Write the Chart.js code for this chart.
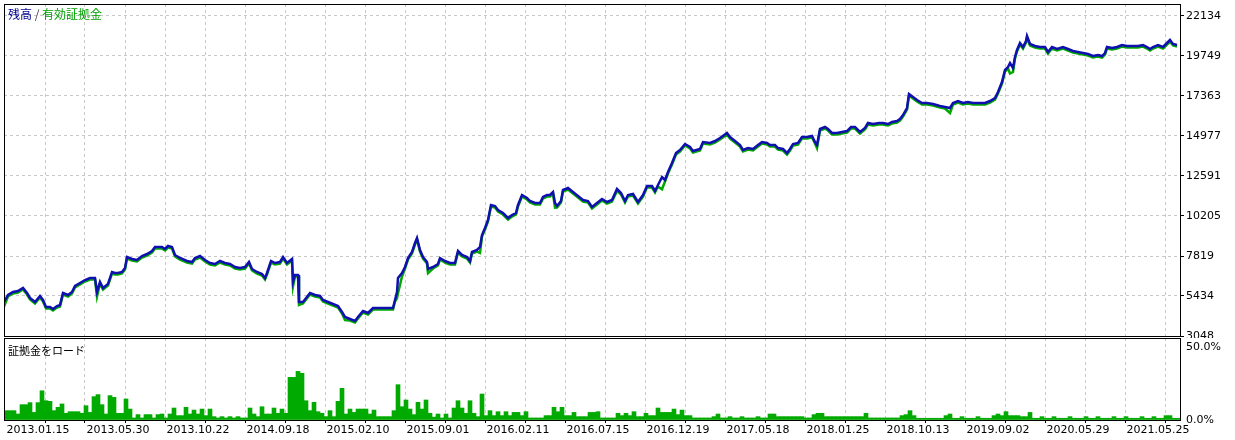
<!DOCTYPE html>
<html>
<head>
<meta charset="utf-8">
<script src="https://cdn.jsdelivr.net/npm/chart.js@4/dist/chart.umd.min.js"></script>
<style>
  body { margin: 0; background: #fff; width: 1235px; height: 440px; overflow: hidden; position: relative; }
  #main { position: absolute; left: 0; top: 0; }
  #load { position: absolute; left: 0; top: 338px; }
  .cap { position: absolute; font-family: "Noto Sans CJK JP"; line-height: 12px; white-space: nowrap; }
</style>
</head>
<body>
<canvas id="main" width="1235" height="338"></canvas>
<canvas id="load" width="1235" height="102"></canvas>
<div class="cap" style="left:8px;top:8px;font-size:12px"><span style="color:#000090">残高</span><span style="color:#444"> / </span><span style="color:#00a000">有効証拠金</span></div>
<div class="cap" style="left:8px;top:344px;font-size:11px;color:#000">証拠金をロード</div>
<script>
// trade number (x) and account values
let trades = [0,4,9,14,19,23,26,31,36,39, 42,46,49,53,56,59,64,68,71,76,
  81,86,91,93,96,99,104,108,111,114, 118,121,123,128,133,138,143,148,151,158,
  161,164,168,171,176,183,188,191,196,201, 206,211,216,221,226,231,236,241,245,248,
  253,258,261,263,267,271,276,279,283,288, 289,291,294,295,299,306,311,316,319,324,
  329,334,338,341,346,351,354,359,364,369, 374,379,386,389,391,393,394,398,401,404,
  408,411,413,416,419,423,424,429,434,436, 441,446,451,454,458,463,466,468,473,476,
  478,481,484,487,491,494,499,504,508,512, 514,518,523,526,531,536,539,543,546,549,
  551,553,557,559,564,569,574,579,584,588, 593,598,603,608,613,617,621,624,629,634,
  639,643,648,651,654,658,661,664,668,672, 676,681,686,689,696,699,706,711,716,723,
  726,731,736,739,744,749,754,758,763,766, 771,774,779,783,786,789,794,798,803,808,
  811,813,816,821,824,828,833,838,843,847, 851,856,861,864,869,875,879,884,888,893,
  896,899,903,905,909,913,918,923,929,936, 941,946,949,954,959,964,969,976,981,986,
  991,994,998,1001,1004,1006,1009,1011,1013,1016, 1019,1022,1023,1026,1031,1036,1041,1044,1048,1053,
  1059,1064,1069,1074,1079,1084,1089,1094,1098,1101, 1103,1108,1113,1118,1123,1129,1134,1139,1143,1146,
  1149,1154,1159,1163,1166,1169,1173]

let balance = [5076,5493,5672,5732,5911,5613,5314,5076,5434,5195, 4778,4778,4658,4837,4897,5613,5493,5672,6030,6209,
  6388,6507,6507,5672,6269,5911,6149,6865,6805,6805, 6865,7104,7760,7640,7581,7819,7938,8117,8356,8356,
  8237,8416,8356,7879,7700,7521,7461,7700,7819,7581, 7402,7342,7521,7402,7342,7163,7104,7163,7461,7044,
  6865,6746,6507,6805,7521,7402,7461,7760,7402,7640, 6269,6686,6686,5076,5076,5613,5493,5434,5195,5076,
  4956,4837,4479,4181,4062,3943,4181,4539,4420,4718, 4718,4718,4718,4718,5195,5672,6507,6805,7163,7700,
  8058,8595,8893,8177,7760,7461,7044,7163,7342,7700, 7521,7402,7402,8117,7879,7760,7521,8058,8177,8356,
  9072,9489,9966,10861,10801,10563,10384,10086,10264,10384, 10861,11457,11278,11099,10980,10980,11338,11457,11457,11636,
  10980,10801,11099,11755,11875,11636,11398,11159,11099,10742, 10980,11219,11040,11159,11815,11577,11099,11457,11517,11040,
  11457,11994,11994,11696,12054,12531,12352,12829,13366,13962, 14141,14499,14320,14081,14201,14618,14559,14678,14857,15155,
  14916,14678,14439,14141,14260,14201,14439,14618,14559,14439, 14439,14260,14201,13962,14201,14499,14559,14916,14916,14976,
  14618,14439,15393,15513,15393,15155,15155,15215,15274,15513, 15513,15215,15453,15751,15692,15751,15751,15692,15811,15871,
  15990,16228,16646,17481,17302,17123,16944,16944,16884,16765, 16706,16646,16944,17063,16944,17004,16944,16944,16944,17063,
  17242,17600,18197,18912,19091,19330,19032,19688,20105,20523, 20284,20642,20940,20463,20344,20284,20284,19986,20284,20165,
  20284,20165,20045,19986,19926,19866,19747,19807,19747,19926, 20284,20224,20284,20403,20344,20344,20344,20403,20284,20165,
  20284,20403,20284,20523,20701,20463,20403]

let equity = [4800,5403,5582,5642,5821,5523,5224,4986,5344,5105, 4688,4688,4568,4747,4807,5523,5403,5582,5940,6119,
  6298,6417,6417,5400,6179,5821,6059,6775,6715,6715, 6775,7014,7670,7550,7491,7729,7848,8027,8266,8266,
  8147,8326,8266,7789,7610,7431,7371,7610,7729,7491, 7312,7252,7431,7312,7252,7073,7014,7073,7371,6954,
  6775,6656,6417,6715,7431,7312,7371,7670,7312,7550, 6000,6596,6596,4900,4986,5523,5403,5344,5105,4986,
  4866,4747,4389,4000,3972,3853,4091,4449,4330,4628, 4628,4628,4628,4628,5105,5300,5600,6600,7073,7610,
  7968,8505,8803,8087,7670,7371,6800,7073,7252,7610, 7431,7312,7312,8027,7789,7670,7431,7968,8087,8000,
  8982,9399,9876,10771,10711,10473,10294,9996,10174,10294, 10771,11367,11188,11009,10890,10890,11248,11367,11367,11546,
  10700,10711,11009,11665,11785,11546,11308,11069,11009,10652, 10890,11129,10950,11069,11700,11487,11009,11367,11427,10950,
  11367,11904,11904,11606,11964,11800,12262,12739,13276,13872, 14051,14409,14230,13991,14111,14528,14469,14588,14767,15065,
  14826,14588,14349,14051,14170,14111,14349,14528,14469,14349, 14349,14170,14111,13872,14111,14409,14469,14826,14826,14886,
  14528,14250,15303,15423,15303,15065,15065,15125,15184,15423, 15423,15125,15363,15661,15602,15661,15661,15602,15721,15781,
  15900,16138,16556,17391,17212,17033,16854,16854,16794,16675, 16616,16350,16854,16973,16854,16914,16854,16854,16854,16973,
  17152,17510,18107,18822,19001,18700,18800,19598,20015,20433, 20194,20552,20850,20373,20254,20194,20194,19896,20194,20075,
  20194,20075,19955,19896,19836,19776,19657,19717,19657,19836, 20194,20134,20194,20313,20254,20254,20254,20313,20194,20075,
  20194,20313,20194,20433,20611,20373,20313]

// margin load in %, one bar per 4 trades
let loadPct = [6.4,6.4,6.4,4.1,10.5,10.5,11.9,5.2,11.9,20, 13.2,12.8,6.4,8.7,11,4.6,5.7,5.7,5.7,4.6,
  9.8,5.2,16,17.4,10.5,4.1,16.7,15.5,4.6,4.6, 14.4,7.5,1.4,3.7,1.4,3.7,3.7,1.4,3.7,4.1,
  1.4,4.1,8.2,3,3,8.7,4.1,6.8,4.1,7.5, 3,7.5,2.3,1.4,2.3,1.4,2.3,1.4,2.3,1.4,
  1.4,8.2,4.1,2.3,9.1,4.1,4.1,8.2,4.6,7.5, 4.6,29.2,29.2,33.3,32,13.2,6.4,12.1,5.7,4.6,
  2.3,6.4,2.3,12.8,21.7,4.1,7.5,5.2,7.5,7.5, 7.5,4.1,6.8,2.3,2.3,2.3,2.3,6.4,24.2,9.1,
  13.7,7.5,3.7,12.1,7.5,13.7,4.6,2,4.1,1.4, 4.1,1.4,8.2,13.2,8.2,4.6,13.2,4.6,2.3,17.8,
  3,6.4,3,5.7,3,5.7,3,5.2,5.2,3, 5.7,1.4,1.4,1.4,1.4,3,3,8.7,5.7,8.7,
  3,3,5.2,2.3,2.3,2.3,5.2,5.2,5.7,1.4, 1.4,1.4,1.4,4.6,3,4.6,3,5.7,2.3,2.3,
  4.6,3,3,8.2,5.2,5.2,5.2,7.5,3.7,6.8, 3,3,1.4,1.4,1.4,1.4,1.4,2.3,4.1,1.4,
  1.4,2.3,1.4,1.4,2.3,1.4,1.4,1.4,2.3,1.4, 1.4,4.1,4.1,2.3,2.3,2.3,2.3,2.3,2.3,2.3,
  1.4,1.4,3.7,4.6,4.6,2.3,2.3,2.3,2.3,2.3, 2.3,2.3,2.3,2.3,2.3,4.6,1.4,1.4,1.4,1.4,
  1.4,1.4,1.4,1.4,3,3.7,6.4,3,1.2,1.2, 1.2,1.2,1.2,1.2,1.2,3,4.1,1.2,1.2,2.3,
  1.2,1.2,1.2,2.3,1.2,1.2,1.2,3,4.1,3, 5.7,3,3,3,2.3,2.3,5.2,1.2,1.2,2.3,
  1.2,1.2,2.3,1.2,1.2,1.2,2.3,1.2,1.2,1.2, 2.3,1.2,1.2,2.3,1.2,1.2,1.2,2.3,1.2,1.2,
  2.3,1.2,1.2,1.2,2.3,1.2,1.2,2.3,1.2,1.2, 3,3,1.2,1.2]

let dateLabels = ["2013.01.15","2013.05.30","2013.10.22","2014.09.18","2015.02.10","2015.09.01",
  "2016.02.11","2016.07.15","2016.12.19","2017.05.18","2018.01.25","2018.10.13",
  "2019.09.02","2020.05.29","2021.05.25"]
let balanceTicks = [3048,5434,7819,10205,12591,14977,17363,19749,22134]
let loadTicks = [0, 50]

const lastTrade = 1176
// vertical grid every 40 trades, a date under every second one
let gridTrades = []
for (let t = 41; t < lastTrade; t += 40) gridTrades.push(t)
let loadTrades = loadPct.map((v, i) => 2 + i * 4)

Chart.defaults.font.family = "DejaVu Sans"
Chart.defaults.font.size = 11
Chart.defaults.color = "#000"

const frame = {
  id: "frame",
  afterDraw(chart) {
    let { ctx, chartArea: a } = chart
    ctx.save()
    ctx.strokeStyle = "#000"
    ctx.lineWidth = 1
    ctx.strokeRect(a.left + 0.5, a.top + 0.5, a.right - a.left, a.bottom - a.top)
    ctx.restore()
  }
}

function noPad(scale) {
  scale.paddingTop = 0; scale.paddingBottom = 0
  scale.paddingLeft = 0; scale.paddingRight = 0
}

let gridX = {
  type: "linear", min: 0, max: lastTrade, offset: false,
  afterBuildTicks: s => { s.ticks = gridTrades.map(v => ({ value: v })) },
  border: { display: false, dash: [3, 3] },
}

new Chart("main", {
  type: "line",
  data: {
    datasets: [
      { label: "残高", data: trades.map((t, i) => ({ x: t, y: balance[i] })),
        borderColor: "#1010b0", borderWidth: 2.5, pointRadius: 0, tension: 0 },
      { label: "有効証拠金", data: trades.map((t, i) => ({ x: t, y: equity[i] })),
        borderColor: "#00a800", borderWidth: 2.5, pointRadius: 0, tension: 0 }
    ]
  },
  options: {
    responsive: false, animation: false, events: [],
    layout: { padding: { left: 4, top: 4, right: 0, bottom: 0 } },
    plugins: { legend: { display: false }, tooltip: { enabled: false } },
    scales: {
      x: Object.assign({}, gridX, {
        ticks: { display: false },
        grid: { color: "#c8c8c8", drawTicks: false },
        afterFit: s => { noPad(s); s.height = 2 }
      }),
      y: {
        position: "right", min: 3048, max: 22849,
        afterBuildTicks: s => { s.ticks = balanceTicks.map(v => ({ value: v })) },
        ticks: { padding: 2, autoSkip: false, callback: v => String(v) },
        grid: { color: "#c8c8c8", tickColor: "#000", tickLength: 4 },
        border: { display: false, dash: [3, 3] },
        afterFit: s => { noPad(s); s.width = 55 }
      }
    }
  },
  plugins: [frame]
})

new Chart("load", {
  type: "bar",
  data: {
    datasets: [
      { label: "証拠金をロード", data: loadTrades.map((t, i) => ({ x: t, y: loadPct[i] })),
        backgroundColor: "#00aa00", barPercentage: 1, categoryPercentage: 1, borderWidth: 0 }
    ]
  },
  options: {
    responsive: false, animation: false, events: [],
    layout: { padding: { left: 4, top: 0, right: 0, bottom: 0 } },
    plugins: { legend: { display: false }, tooltip: { enabled: false } },
    scales: {
      x: Object.assign({}, gridX, {
        ticks: {
          autoSkip: false, maxRotation: 0, minRotation: 0, padding: 1, labelOffset: -7,
          callback: (v, i) => (i % 2 === 0 ? dateLabels[i / 2] : "")
        },
        grid: { color: "#c8c8c8", tickColor: "#000", tickLength: 3, offset: false },
        afterFit: s => { noPad(s); s.height = 20 }
      }),
      y: {
        position: "right", min: 0, max: 56.16,
        afterBuildTicks: s => { s.ticks = loadTicks.map(v => ({ value: v })) },
        ticks: { padding: 6, autoSkip: false, callback: v => v.toFixed(1) + "%" },
        grid: { drawOnChartArea: false, drawTicks: false },
        border: { display: false },
        afterFit: s => { noPad(s); s.width = 55 }
      }
    }
  },
  plugins: [frame]
})
</script>
</body>
</html>
